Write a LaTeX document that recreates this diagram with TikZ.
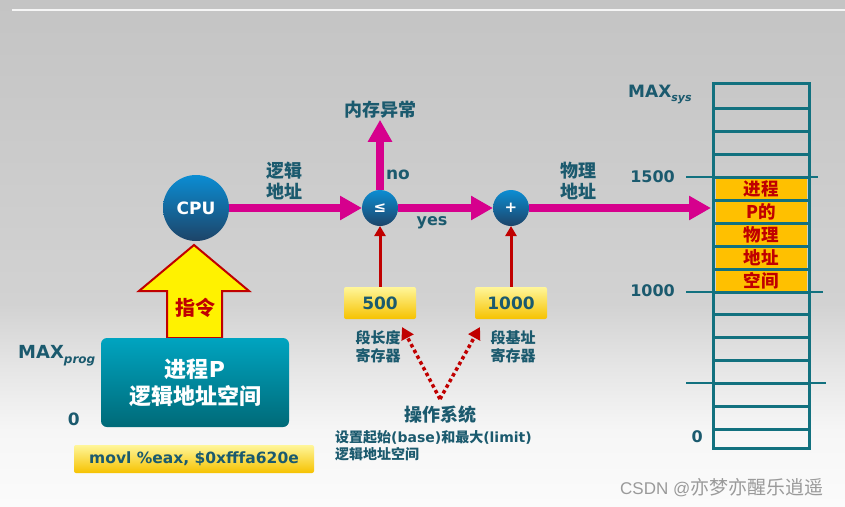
\documentclass[tikz,border=0pt]{standalone}
\usepackage{fontspec}
\setmainfont{DejaVu Sans}
\newfontfamily\cjkfont{Noto Sans CJK SC}
\newfontfamily\wmfont{Liberation Sans}
\usetikzlibrary{arrows.meta,calc}
\newcommand{\zhb}[1]{{\cjkfont\bfseries #1}}
\definecolor{txt}{HTML}{1B5A6E}
\definecolor{mag}{HTML}{D6008D}
\definecolor{dred}{HTML}{C00000}
\definecolor{memc}{HTML}{12717F}
\definecolor{orng}{HTML}{FFC000}
\definecolor{ballt}{HTML}{0B8DD3}
\definecolor{ballb}{HTML}{1D4468}
\definecolor{tealt}{HTML}{00A4C0}
\definecolor{tealb}{HTML}{006A78}
\definecolor{yelt}{HTML}{FFF69A}
\definecolor{yelb}{HTML}{F6C200}
\definecolor{wmc}{HTML}{9A9A9A}
\definecolor{bgA}{HTML}{C4C4C4}
\definecolor{bgB}{HTML}{D2D2D2}
\definecolor{bgC}{HTML}{E6E6E6}
\definecolor{bgD}{HTML}{F6F6F6}
\definecolor{bgE}{HTML}{FBFBFB}
\pgfdeclareverticalshading{bgshade}{100bp}{color(0bp)=(bgE); color(25bp)=(bgE); color(32.5bp)=(bgD); color(38.5bp)=(bgC); color(45bp)=(bgB); color(75bp)=(bgA); color(100bp)=(bgA)}
\begin{document}
\begin{tikzpicture}[x=1pt,y=-1pt,
  lbl/.style={text=txt, inner sep=1pt},
  ball/.style={circle, top color=ballt, bottom color=ballb, text=white, inner sep=0pt, outer sep=0pt, minimum size=#1},
  ball/.default=36pt,
  magarrow/.style={draw=mag, line width=7.5pt, -{Triangle[length=22pt,width=23pt]}},
  redarrow/.style={draw=dred, line width=3pt, -{Triangle[length=10pt,width=11pt]}},
  dotarrow/.style={draw=dred, line width=3.5pt, dash pattern=on 3.5pt off 3pt, -{Triangle[length=12pt,width=13pt]}},
  regbox/.style={rounded corners=2pt, top color=yelt, bottom color=yelb, minimum width=72pt, minimum height=32pt, text=txt, font=\fontsize{17}{20}\selectfont\bfseries, inner sep=0pt},
  memcell/.style={fill=orng, minimum width=91pt, minimum height=20pt, inner sep=0pt, text=dred, font=\fontsize{17.5}{17.5}\selectfont},
  memline/.style={draw=memc, line width=3pt},
  tickline/.style={draw=memc, line width=1.6pt},
]
\useasboundingbox (0,0) rectangle (845,506);
\shade[shading=bgshade] (0,0) rectangle (845,506);
\draw[white, line width=2pt, opacity=0.85] (12,10) -- (845,10);

% memory column
\draw[tickline] (686,177) -- (818,177);
\draw[tickline] (686,292) -- (823,292);
\draw[tickline] (686,383) -- (826,383);
\node[memcell] (m1) at (761,188.5) {\zhb{进程}};
\node[memcell] (m2) at (761,211.5) {\zhb{P的}};
\node[memcell] (m3) at (761,234.5) {\zhb{物理}};
\node[memcell] (m4) at (761,257.5) {\zhb{地址}};
\node[memcell] (m5) at (761,280.5) {\zhb{空间}};
\foreach \y in {108,131,154,177,200,223,246,269,292,314,337,360,383,406,429}
  \draw[memline] (713,\y) -- (809,\y);
\draw[memline] (713,83) rectangle (809,448);
\node[lbl, anchor=base west, font=\fontsize{17}{17}\selectfont\bfseries] (maxsys) at (627,97) {MAX\raisebox{-4pt}{\fontsize{11}{11}\selectfont\itshape sys}};
\node[lbl, anchor=base east, font=\fontsize{16}{16}\selectfont\bfseries] (l1500) at (676,182) {1500};
\node[lbl, anchor=base east, font=\fontsize{16}{16}\selectfont\bfseries] (l1000) at (676,296) {1000};
\node[lbl, anchor=base east, font=\fontsize{16}{16}\selectfont\bfseries] (l0) at (704,442) {0};
\coordinate (memin) at (711,208);

% processors
\node[ball=66pt, font=\fontsize{17}{17}\selectfont\bfseries] (cpu) at (196,208) {CPU};
\node[ball, font=\fontsize{15}{15}\selectfont\bfseries] (le) at (380,208) {≤};
\node[ball, font=\fontsize{15}{15}\selectfont\bfseries] (plus) at (511,208) {+};

% labels
\node[lbl, font=\fontsize{18}{21}\selectfont, align=center] (la) at (284,181) {\zhb{逻辑}\\\zhb{地址}};
\node[lbl, font=\fontsize{18}{21}\selectfont, align=center] (pa) at (578,181) {\zhb{物理}\\\zhb{地址}};
\node[lbl, anchor=base, font=\fontsize{17}{17}\selectfont\bfseries] (no) at (398,179) {no};
\node[lbl, anchor=base, font=\fontsize{16}{16}\selectfont\bfseries] (yes) at (432,225) {yes};
\node[lbl, font=\fontsize{18}{18}\selectfont] (exc) at (380,110) {\zhb{内存异常}};

% registers
\node[regbox] (b500) at (380,303) {500};
\node[regbox] (b1000) at (511,303) {1000};
\node[lbl, font=\fontsize{15}{18}\selectfont, align=center] (rl1) at (378,347) {\zhb{段长度}\\\zhb{寄存器}};
\node[lbl, font=\fontsize{15}{18}\selectfont, align=center] (rl2) at (513,347) {\zhb{段基址}\\\zhb{寄存器}};

% OS
\node[lbl, font=\fontsize{18}{18}\selectfont] (os) at (440,415) {\zhb{操作系统}};
\coordinate (osp) at (440,399);
\coordinate (t1) at (402,327);
\coordinate (t2) at (480,327);
\node[lbl, anchor=west, font=\fontsize{14}{14}\selectfont\bfseries] (d1) at (334,437) {\zhb{设置起始}(base)\zhb{和最大}(limit)};
\node[lbl, anchor=west, font=\fontsize{14}{14}\selectfont\bfseries] (d2) at (334,454) {\zhb{逻辑地址空间}};

% instruction arrow and process box
\filldraw[fill=yellow, draw=dred, line width=2pt, line join=miter] (194,245) -- (249,291) -- (222,291) -- (222,338) -- (167,338) -- (167,291) -- (139,291) -- cycle;
\node[font=\fontsize{20}{20}\selectfont, text=dred] (instr) at (195,308) {\zhb{指令}};
\node[rounded corners=6pt, top color=tealt, bottom color=tealb, minimum width=188pt, minimum height=89pt, text=white, align=center, font=\fontsize{22}{27}\selectfont, inner sep=0pt] (proc) at (195,382.5) {\zhb{进程}\textbf{P}\\\zhb{逻辑地址空间}};
\node[lbl, anchor=base west, font=\fontsize{18}{18}\selectfont\bfseries] (maxprog) at (17,358) {MAX\raisebox{-5pt}{\fontsize{12}{12}\selectfont\itshape prog}};
\node[lbl, anchor=base east, font=\fontsize{17}{17}\selectfont\bfseries] (z1) at (81,425) {0};
\node[regbox, minimum width=240pt, minimum height=28pt, font=\fontsize{15.5}{16}\selectfont\bfseries] (movl) at (194,459) {movl \%eax, \$0xfffa620e};

% watermark
\node[anchor=west, text=wmc, font=\wmfont\fontsize{17}{17}\selectfont, inner sep=0pt] (wm) at (620,488) {CSDN @{\cjkfont\fontsize{19}{19}\selectfont 亦梦亦醒乐逍遥}};

% connectors
\draw[magarrow] (cpu) -- (le);
\draw[magarrow] (le) -- (plus);
\draw[magarrow] (plus) -- (memin);
\draw[magarrow] (le) -- (exc);
\draw[redarrow] (b500) -- (le);
\draw[redarrow] (b1000) -- (plus);
\draw[dotarrow] (osp) -- (t1);
\draw[dotarrow] (osp) -- (t2);
\end{tikzpicture}
\end{document}
